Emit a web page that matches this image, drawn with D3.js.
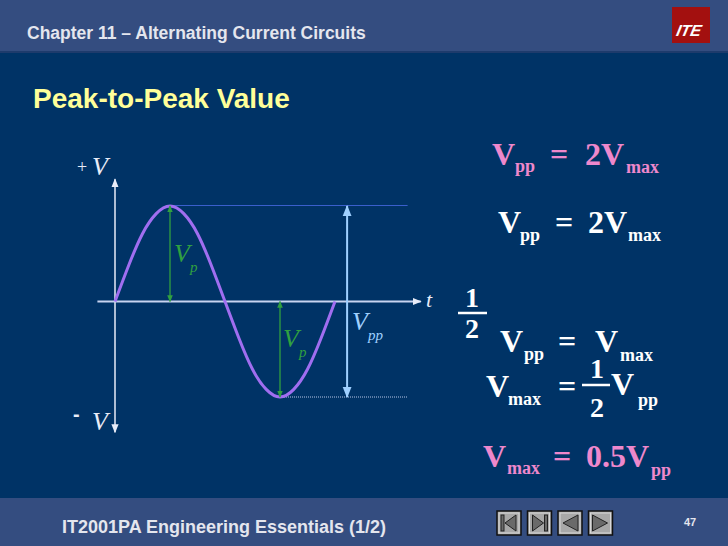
<!DOCTYPE html>
<html>
<head>
<meta charset="utf-8">
<script src="https://cdn.jsdelivr.net/npm/d3@7"></script>
<style>
  body { margin: 0; background: #003366; }
  svg { display: block; }
</style>
</head>
<body>
<div id="slide"></div>
<script>
// one period of the wave (t in periods, v in units of Vmax)
var waveT = [0, 0.0625, 0.125, 0.1875, 0.25, 0.3125, 0.375, 0.4375, 0.5,
             0.5625, 0.625, 0.6875, 0.75, 0.8125, 0.875, 0.9375, 1];
var waveV = [0, 0.38, 0.71, 0.92, 1, 0.92, 0.71, 0.38, 0,
             -0.38, -0.71, -0.92, -1, -0.92, -0.71, -0.38, 0];
// axes extents and marker positions, same units
var axisT = [-0.08, 1.39];
var axisV = [-1.37, 1.28];
var peakT = 0.25, troughT = 0.75, vppT = 1.055, guideEndT = 1.33;

var headerText = "Chapter 11 \u2013 Alternating Current Circuits";
var titleText = "Peak-to-Peak Value";
var footerText = "IT2001PA Engineering Essentials (1/2)";
var pageNo = "47";
var navButtons = ["first", "last", "prev", "next"];

var W = 728, H = 546;
var svg = d3.select("#slide").append("svg")
    .attr("width", W)
    .attr("height", H);

var defs = svg.append("defs");
function arrowMarker(id, color, size) {
  defs.append("marker")
      .attr("id", id)
      .attr("viewBox", "0 0 10 10")
      .attr("refX", 9).attr("refY", 5)
      .attr("markerUnits", "userSpaceOnUse")
      .attr("markerWidth", size).attr("markerHeight", size)
      .attr("orient", "auto-start-reverse")
    .append("path")
      .attr("d", "M0,1 L10,5 L0,9 Z")
      .attr("fill", color);
}
arrowMarker("axArrow", "#e8ecf8", 9);
arrowMarker("grArrow", "#30a040", 7);
arrowMarker("vppArrow", "#9fd0ff", 11);

// background bands
svg.append("rect").attr("width", W).attr("height", H).attr("fill", "#003366");
svg.append("rect").attr("width", W).attr("height", 51).attr("fill", "#344d80");
svg.append("rect").attr("y", 51).attr("width", W).attr("height", 2).attr("fill", "#1e3b6c");
svg.append("rect").attr("y", 498).attr("width", W).attr("height", H - 498).attr("fill", "#344d80");

svg.append("text")
    .attr("x", 27).attr("y", 39)
    .attr("font-family", "Liberation Sans, Arial, sans-serif")
    .attr("font-weight", "bold")
    .attr("font-size", 17.5)
    .attr("fill", "#e4e6ee")
    .text(headerText);

// logo
var logo = svg.append("g").attr("transform", "translate(672,7)");
logo.append("rect").attr("width", 38).attr("height", 36).attr("fill", "#a3100f");
logo.append("text")
    .attr("x", 22).attr("y", 29)
    .attr("text-anchor", "middle")
    .attr("font-family", "Liberation Sans, Arial, sans-serif")
    .attr("font-weight", "bold")
    .attr("font-style", "italic")
    .attr("font-size", 16)
    .attr("transform", "skewX(-12)")
    .attr("fill", "#ffffff")
    .text("ITE");

svg.append("text")
    .attr("x", 33).attr("y", 108)
    .attr("font-family", "Liberation Sans, Arial, sans-serif")
    .attr("font-weight", "bold")
    .attr("font-size", 28)
    .attr("fill", "#ffff99")
    .text(titleText);

// ---- the wave chart ----
var x = d3.scaleLinear().domain([0, 1]).range([115, 335]);
var y = d3.scaleLinear().domain([-1, 1]).range([397, 206]);
var g = svg.append("g");

// guide lines at peak and trough
g.append("line")
    .attr("x1", x(peakT)).attr("x2", x(guideEndT))
    .attr("y1", y(1) - 0.5).attr("y2", y(1) - 0.5)
    .attr("stroke", "#3a5fcc").attr("stroke-width", 1);
g.append("line")
    .attr("x1", x(troughT)).attr("x2", x(guideEndT))
    .attr("y1", y(-1)).attr("y2", y(-1))
    .attr("stroke", "#b8c8e8").attr("stroke-width", 1)
    .attr("stroke-dasharray", "1,1");

// axes
g.append("line")
    .attr("x1", x(0)).attr("x2", x(0))
    .attr("y1", y(axisV[0])).attr("y2", y(axisV[1]))
    .attr("stroke", "#e8ecf8").attr("stroke-width", 1.5)
    .attr("marker-start", "url(#axArrow)")
    .attr("marker-end", "url(#axArrow)");
g.append("line")
    .attr("x1", x(axisT[0])).attr("x2", x(axisT[1]))
    .attr("y1", y(0)).attr("y2", y(0))
    .attr("stroke", "#c8d4f0").attr("stroke-width", 2)
    .attr("marker-end", "url(#axArrow)");

// sine wave
var pts = waveT.map(function(t, i) { return [t, waveV[i]]; });
var line = d3.line()
    .x(function(d) { return x(d[0]); })
    .y(function(d) { return y(d[1]); })
    .curve(d3.curveNatural);
g.append("path")
    .datum(pts)
    .attr("d", line)
    .attr("fill", "none")
    .attr("stroke", "#a06ef0")
    .attr("stroke-width", 3);

// Vp arrows
[[peakT, 1], [troughT, -1]].forEach(function(p) {
  g.append("line")
      .attr("x1", x(p[0])).attr("x2", x(p[0]))
      .attr("y1", y(0)).attr("y2", y(p[1]))
      .attr("stroke", "#30a040").attr("stroke-width", 1.3)
      .attr("marker-start", "url(#grArrow)")
      .attr("marker-end", "url(#grArrow)");
});

// Vpp arrow
g.append("line")
    .attr("x1", x(vppT)).attr("x2", x(vppT))
    .attr("y1", y(-1)).attr("y2", y(1))
    .attr("stroke", "#9fd0ff").attr("stroke-width", 2)
    .attr("marker-start", "url(#vppArrow)")
    .attr("marker-end", "url(#vppArrow)");

var serif = "Liberation Serif, Times New Roman, serif";
function italicLabel(px, py, main, sub, color, size, subSize) {
  var t = g.append("text")
      .attr("x", px).attr("y", py)
      .attr("font-family", serif)
      .attr("font-style", "italic")
      .attr("font-size", size)
      .attr("fill", color);
  t.append("tspan").text(main);
  if (sub) t.append("tspan").attr("font-size", subSize).attr("dy", subSize * 0.65).text(sub);
  return t;
}
// axis labels
g.append("text").attr("x", 77).attr("y", 173)
    .attr("font-family", serif).attr("font-size", 18).attr("fill", "#e8ecf8").text("+");
italicLabel(92, 175, "V", null, "#e8ecf8", 26);
g.append("text").attr("x", 73).attr("y", 421)
    .attr("font-family", "Liberation Sans, Arial, sans-serif").attr("font-weight", "bold")
    .attr("font-size", 20).attr("fill", "#e8ecf8").text("-");
italicLabel(92, 430, "V", null, "#e8ecf8", 26);
italicLabel(426, 307, "t", null, "#e8ecf8", 22);

italicLabel(x(peakT) + 4, 262, "V", "p", "#30a040", 26, 15);
italicLabel(x(troughT) + 3, 347, "V", "p", "#30a040", 26, 15);
italicLabel(x(vppT) + 5, 330, "V", "pp", "#9fd0ff", 26, 15);

// ---- equations ----
var eqFont = "Liberation Serif, Times New Roman, serif";
function piece(px, py, txt, size, color) {
  svg.append("text")
      .attr("x", px).attr("y", py)
      .attr("font-family", eqFont)
      .attr("font-weight", "bold")
      .attr("font-size", size)
      .attr("fill", color)
      .text(txt);
}
function fracBar(x1, x2, yy, color) {
  svg.append("line").attr("x1", x1).attr("x2", x2).attr("y1", yy).attr("y2", yy)
      .attr("stroke", color).attr("stroke-width", 2.5);
}
var pink = "#ee88cc", white = "#ffffff";
var big = 32, small = 18;

// Vpp = 2Vmax (pink)
piece(492, 165, "V", big, pink);
piece(515, 172, "pp", small, pink);
piece(550, 165, "=", big, pink);
piece(585, 165, "2V", big, pink);
piece(626, 173, "max", small, pink);

// Vpp = 2Vmax (white)
piece(498, 233, "V", big, white);
piece(520, 241, "pp", small, white);
piece(555, 233, "=", big, white);
piece(588, 233, "2V", big, white);
piece(628, 241, "max", small, white);

// 1/2 Vpp = Vmax
piece(465, 307, "1", 28, white);
fracBar(458, 487, 313, white);
piece(465, 338, "2", 28, white);
piece(500, 352, "V", big, white);
piece(524, 360, "pp", small, white);
piece(558, 352, "=", big, white);
piece(595, 352, "V", big, white);
piece(620, 361, "max", small, white);

// Vmax = 1/2 Vpp
piece(486, 397, "V", big, white);
piece(508, 405, "max", small, white);
piece(558, 397, "=", big, white);
piece(590, 378, "1", 28, white);
fracBar(582, 610, 385, white);
piece(590, 417, "2", 28, white);
piece(611, 395, "V", big, white);
piece(638, 406, "pp", small, white);

// Vmax = 0.5Vpp (pink)
piece(483, 467, "V", big, pink);
piece(507, 474, "max", small, pink);
piece(553, 467, "=", big, pink);
piece(586, 467, "0.5V", big, pink);
piece(651, 476, "pp", small, pink);

// ---- footer ----
svg.append("text")
    .attr("x", 62).attr("y", 533)
    .attr("font-family", "Liberation Sans, Arial, sans-serif")
    .attr("font-weight", "bold")
    .attr("font-size", 18)
    .attr("fill", "#e4e6ee")
    .text(footerText);

var nav = svg.append("g").selectAll("g")
    .data(navButtons)
  .enter().append("g")
    .attr("transform", function(d, i) { return "translate(" + (497 + i * 30.5) + ",511)"; });
nav.append("rect")
    .attr("width", 24).attr("height", 24)
    .attr("fill", "#a8a8a8")
    .attr("stroke", "#111").attr("stroke-width", 1.5);
nav.append("rect")
    .attr("x", 2).attr("y", 2).attr("width", 20).attr("height", 20)
    .attr("fill", "none").attr("stroke", "#d8d8d8").attr("stroke-width", 1);
nav.append("path")
    .attr("d", function(d) {
      if (d === "first") return "M19,4 L8,12 L19,20 Z";
      if (d === "last") return "M5,4 L16,12 L5,20 Z";
      if (d === "prev") return "M20,4 L5,12 L20,20 Z";
      return "M4,4 L19,12 L4,20 Z";
    })
    .attr("fill", "#6a6a6a").attr("stroke", "#222").attr("stroke-width", 1);
nav.filter(function(d) { return d === "first" || d === "last"; })
  .append("rect")
    .attr("x", function(d) { return d === "first" ? 4 : 17; })
    .attr("y", 4).attr("width", 3).attr("height", 16)
    .attr("fill", "#6a6a6a").attr("stroke", "#222").attr("stroke-width", 1);

svg.append("text")
    .attr("x", 684).attr("y", 526)
    .attr("font-family", "Liberation Sans, Arial, sans-serif")
    .attr("font-weight", "bold")
    .attr("font-size", 11)
    .attr("fill", "#e4e6ee")
    .text(pageNo);
</script>
</body>
</html>
